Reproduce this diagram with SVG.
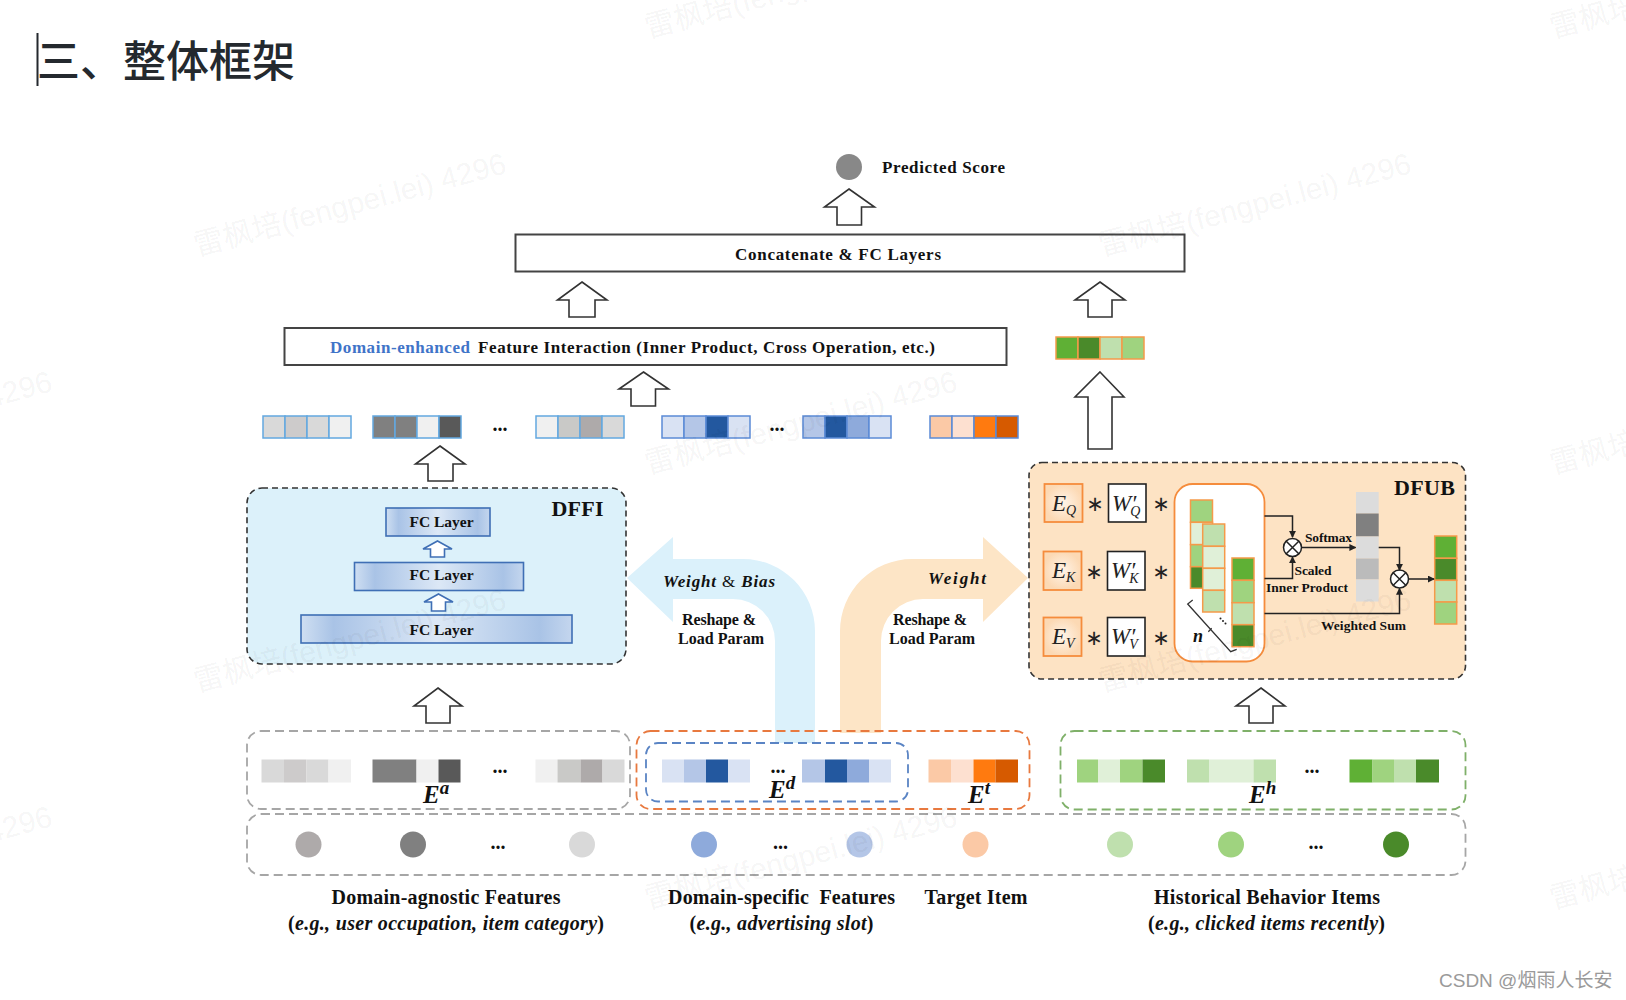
<svg xmlns="http://www.w3.org/2000/svg" width="1626" height="1000" viewBox="0 0 1626 1000">
<style>
text{font-family:"Liberation Serif","Noto Sans CJK SC",serif;fill:#111}
.b{font-weight:700}
.bi{font-weight:700;font-style:italic}
.m{font-style:italic;font-size:23px;fill:#222}
.l20{font-size:20px;font-weight:700}
.l17{font-size:17px;font-weight:700}
.l16{font-size:16px;font-weight:700}
.l13{font-size:13.5px;font-weight:700}
.mid{text-anchor:middle}
.dots{font-size:20px;font-weight:700;text-anchor:middle}
.ast{font-size:21px;font-family:"DejaVu Sans",sans-serif;text-anchor:middle;fill:#222}
.hollow{fill:#fff;stroke:#333;stroke-width:1.6}
.hollowb{fill:#fff;stroke:#3f6fb5;stroke-width:1.6}
.box{fill:#fff;stroke:#444;stroke-width:2}
.dk{fill:none;stroke:#333;stroke-width:1.6;stroke-dasharray:6 4}
.dg{fill:none;stroke:#a6a6a6;stroke-width:1.8;stroke-dasharray:9 5}
.do{fill:none;stroke:#e8793f;stroke-width:1.8;stroke-dasharray:9 5}
.db{fill:none;stroke:#5a84c4;stroke-width:1.8;stroke-dasharray:9 5}
.dn{fill:none;stroke:#7fb069;stroke-width:1.8;stroke-dasharray:9 5}
.fc{fill:url(#fcg);stroke:#3f6fb5;stroke-width:1.6}
.sa rect{stroke:#63a8e0;stroke-width:1.5}
.sd rect{stroke:#5b8bd6;stroke-width:1.5}
.so rect{stroke:#f59a4a;stroke-width:1.5}
.eo{fill:url(#eog);stroke:#f58c3c;stroke-width:1.8}
.ew{fill:#fff;stroke:#222;stroke-width:1.6}
.wire{fill:none;stroke:#444;stroke-width:1.5}
.wa{fill:none;stroke:#222;stroke-width:1.5;marker-end:url(#ah)}
.ot{fill:#fff;stroke:#222;stroke-width:1.5}
.k1{fill:#d9d9d9}.k2{fill:#cdcbcb}.k3{fill:#f0f0f0}.k4{fill:#808080}.k5{fill:#595959}.k6{fill:#c9c9c7}.k7{fill:#aeaaaa}
.b1{fill:#d9e2f3}.b2{fill:#b4c6e7}.b3{fill:#23589f}.b4{fill:#8eaadb}
.o1{fill:#fbc9a6}.o2{fill:#fde0d0}.o3{fill:#ff7a0f}.o4{fill:#d65a00}
.g1{fill:#9fd37f}.g2{fill:#e0f0d8}.g3{fill:#4a8a2a}.g4{fill:#bfe0ae}.g5{fill:#5fb035}
.wm{font-family:"Liberation Sans","Noto Sans CJK SC",sans-serif;font-size:30px;fill:#000;fill-opacity:.055}
</style>
<defs>
<linearGradient id="fcg"><stop offset="0" stop-color="#cfdff2"/><stop offset=".12" stop-color="#a9c3e6"/><stop offset=".5" stop-color="#dce8f6"/><stop offset=".88" stop-color="#a9c3e6"/><stop offset="1" stop-color="#c4d6ee"/></linearGradient>
<radialGradient id="eog"><stop offset="0" stop-color="#fff4e8"/><stop offset="1" stop-color="#fcd9b4"/></radialGradient>
<marker id="ah" viewBox="0 0 8 8" refX="7" refY="4" markerWidth="7" markerHeight="7" markerUnits="userSpaceOnUse" orient="auto"><path d="M0 0L8 4L0 8Z" fill="#222"/></marker>
</defs>
<rect width="1626" height="1000" fill="#fff"/>

<g id="title">
<rect x="36.500" y="33" width="2" height="53" fill="#24292e"/>
<text x="37" y="77" font-size="43" font-weight="500" style="font-family:'Noto Sans CJK SC',sans-serif;fill:#24292e">三、整体框架</text>
</g>

<g id="predicted-score">
<circle cx="849" cy="167" r="13" fill="#888"/>
<text class="l17" x="882" y="173" textLength="123">Predicted Score</text>
</g>

<g id="concat-layer">
<rect class="box" x="515.500" y="234.500" width="669" height="37"/>
<text class="l17" x="735" y="260" textLength="206">Concatenate &amp; FC Layers</text>
</g>

<g id="interaction-layer">
<rect class="box" x="284.500" y="328" width="722" height="37"/>
<text class="l17" x="330" y="353" textLength="140" style="fill:#3f74c8">Domain-enhanced</text>
<text class="l17" x="478" y="353" textLength="457">Feature Interaction (Inner Product, Cross Operation, etc.)</text>
</g>

<g id="user-strip" class="so">
<rect class="g5" x="1056" y="337" width="22" height="22"/><rect class="g3" x="1078" y="337" width="22" height="22"/><rect class="g4" x="1100" y="337" width="22" height="22"/><rect class="g1" x="1122" y="337" width="22" height="22"/>
</g>

<g id="mid-strips">
<g class="sa"><rect class="k1" x="263" y="416" width="22" height="22"/><rect class="k2" x="285" y="416" width="22" height="22"/><rect class="k1" x="307" y="416" width="22" height="22"/><rect class="k3" x="329" y="416" width="22" height="22"/></g>
<g class="sa"><rect class="k4" x="373" y="416" width="22" height="22"/><rect class="k4" x="395" y="416" width="22" height="22"/><rect class="k3" x="417" y="416" width="22" height="22"/><rect class="k5" x="439" y="416" width="22" height="22"/></g>
<text class="dots" x="500" y="431">...</text>
<g class="sa"><rect class="k3" x="536" y="416" width="22" height="22"/><rect class="k6" x="558" y="416" width="22" height="22"/><rect class="k7" x="580" y="416" width="22" height="22"/><rect class="k1" x="602" y="416" width="22" height="22"/></g>
<g class="sd"><rect class="b1" x="662" y="416" width="22" height="22"/><rect class="b2" x="684" y="416" width="22" height="22"/><rect class="b3" x="706" y="416" width="22" height="22"/><rect class="b1" x="728" y="416" width="22" height="22"/></g>
<text class="dots" x="777" y="431">...</text>
<g class="sd"><rect class="b2" x="803" y="416" width="22" height="22"/><rect class="b3" x="825" y="416" width="22" height="22"/><rect class="b4" x="847" y="416" width="22" height="22"/><rect class="b1" x="869" y="416" width="22" height="22"/></g>
<g class="sd"><rect class="o1" x="930" y="416" width="22" height="22"/><rect class="o2" x="952" y="416" width="22" height="22"/><rect class="o3" x="974" y="416" width="22" height="22"/><rect class="o4" x="996" y="416" width="22" height="22"/></g>
</g>

<g id="DFFI">
<rect x="247" y="488" width="379" height="176" rx="15" fill="#dcf1fa"/>
<rect class="dk" x="247" y="488" width="379" height="176" rx="15"/>
<text x="551.500" y="516" font-size="22" class="b" textLength="52">DFFI</text>
<rect class="fc" x="386" y="508" width="104" height="28"/>
<text class="l17 mid" x="441.500" y="527" style="font-size:15.500px">FC Layer</text>
<rect class="fc" x="354.500" y="562.500" width="169" height="28"/>
<text class="l17 mid" x="441.500" y="580" style="font-size:15.500px">FC Layer</text>
<rect class="fc" x="301" y="615" width="271" height="28"/>
<text class="l17 mid" x="441.500" y="635" style="font-size:15.500px">FC Layer</text>
<path class="hollowb" d="M437.500 541L452 549H444.500V557H430.500V549H423Z"/>
<path class="hollowb" d="M438.500 594L453 602H445.500V611H431.500V602H424Z"/>
</g>

<g id="param-arrows">
<path d="M627 578L673 537V559H743A72 72 0 0 1 815 631V743H775V641A42 42 0 0 0 733 599H673V622Z" fill="#dbf1fb"/>
<path d="M1028 578L983 537V559H912A72 72 0 0 0 840 631V733H881V641A42 42 0 0 1 923 599H983V622Z" fill="#fde5c6"/>
<text class="bi" x="663" y="587" font-size="17" textLength="112">Weight <tspan font-weight="400" font-style="normal">&amp;</tspan> Bias</text>
<text class="l16" x="682" y="625" textLength="74">Reshape &amp;</text>
<text class="l16" x="678" y="644" textLength="86">Load Param</text>
<text class="bi" x="928" y="584" font-size="17" textLength="58">Weight</text>
<text class="l16" x="893" y="625" textLength="74">Reshape &amp;</text>
<text class="l16" x="889" y="644" textLength="86">Load Param</text>
</g>

<g id="DFUB">
<rect x="1029" y="462.500" width="436.500" height="216.500" rx="13" fill="#fde3c4"/>
<rect class="dk" x="1029" y="462.500" width="436.500" height="216.500" rx="13"/>
<text x="1394" y="495" font-size="22" class="b" textLength="61">DFUB</text>
<rect class="eo" x="1044.500" y="484" width="38" height="38"/>
<text class="m" x="1052" y="511">E<tspan font-size="14" dy="4">Q</tspan></text>
<rect class="eo" x="1043.500" y="551.500" width="38" height="38.500"/>
<text class="m" x="1052" y="578">E<tspan font-size="14" dy="4">K</tspan></text>
<rect class="eo" x="1043.500" y="617.500" width="38" height="38.500"/>
<text class="m" x="1052" y="644">E<tspan font-size="14" dy="4">V</tspan></text>
<rect class="ew" x="1108.500" y="484" width="37.500" height="38"/>
<text class="m" x="1112" y="511">W′<tspan font-size="14" dy="5" dx="-6">Q</tspan></text>
<rect class="ew" x="1107.500" y="551.500" width="37.500" height="38.500"/>
<text class="m" x="1111" y="578">W′<tspan font-size="14" dy="5" dx="-6">K</tspan></text>
<rect class="ew" x="1107.500" y="617.500" width="37.500" height="38.500"/>
<text class="m" x="1111" y="644">W′<tspan font-size="14" dy="5" dx="-6">V</tspan></text>
<text class="ast" x="1095" y="511">∗</text><text class="ast" x="1161" y="511">∗</text>
<text class="ast" x="1094" y="579">∗</text><text class="ast" x="1161" y="579">∗</text>
<text class="ast" x="1094" y="645">∗</text><text class="ast" x="1161" y="645">∗</text>
<rect x="1174.500" y="484" width="90" height="177.500" rx="18" fill="#fff" stroke="#f58c3c" stroke-width="1.8"/>
<g class="so">
<rect class="g1" x="1190.500" y="500" width="22" height="22.300"/><rect class="g2" x="1190.500" y="522.300" width="22" height="22.300"/><rect class="g1" x="1190.500" y="544.700" width="22" height="22"/><rect class="g3" x="1190.500" y="566.700" width="22" height="21.600"/>
<rect class="g4" x="1202.700" y="524" width="22" height="22.300"/><rect class="g2" x="1202.700" y="546.300" width="22" height="22"/><rect class="g2" x="1202.700" y="568.300" width="22" height="22"/><rect class="g4" x="1202.700" y="590.300" width="22" height="21.700"/>
<rect class="g5" x="1232" y="558" width="22" height="22.300"/><rect class="g1" x="1232" y="580.300" width="22" height="22.400"/><rect class="g4" x="1232" y="602.700" width="22" height="22"/><rect class="g3" x="1232" y="624.700" width="22" height="22"/>
</g>
<path d="M1192.700 600L1187.700 604L1230.700 651.700L1236.700 649.300M1208.300 631.700L1211.700 628.300" fill="none" stroke="#333" stroke-width="1.300"/>
<g fill="#222"><circle cx="1220.500" cy="618.500" r="1"/><circle cx="1223" cy="621" r="1"/><circle cx="1225.500" cy="623.500" r="1"/></g>
<text class="bi" x="1193" y="642" font-size="18">n</text>
<text class="l13" x="1305" y="541.500" textLength="47">Softmax</text>
<text class="l13" x="1294.500" y="575" textLength="37">Scaled</text>
<text class="l13" x="1266" y="591.500" textLength="82">Inner Product</text>
<text class="l13" x="1321" y="630" textLength="85">Weighted Sum</text>
<g id="attn-column">
<rect x="1356" y="492" width="22.700" height="21.500" fill="#dcdcdc"/><rect x="1356" y="513.500" width="22.700" height="23" fill="#808080"/><rect x="1356" y="536.500" width="22.700" height="22" fill="#dcdcdc"/><rect x="1356" y="558.500" width="22.700" height="21" fill="#bbb"/><rect x="1356" y="579.500" width="22.700" height="22" fill="#dcdcdc"/>
</g>
<g id="user-output" class="so">
<rect class="g5" x="1434.700" y="536" width="22" height="22.300"/><rect class="g3" x="1434.700" y="558.300" width="22" height="22"/><rect class="g4" x="1434.700" y="580.300" width="22" height="21.700"/><rect class="g1" x="1434.700" y="602" width="22" height="22"/>
</g>
<g id="otimes-1"><circle class="ot" cx="1292.500" cy="547.500" r="9"/><path class="wire" d="M1286 541L1299 554M1299 541L1286 554" style="stroke:#222"/></g>
<g id="otimes-2"><circle class="ot" cx="1399.500" cy="579" r="9"/><path class="wire" d="M1393 572.500L1406 585.500M1406 572.500L1393 585.500" style="stroke:#222"/></g>
</g>

<g id="feature-embeddings">
<g><rect class="k1" x="261.500" y="759.500" width="22.500" height="23"/><rect class="k2" x="284" y="759.500" width="22.500" height="23"/><rect class="k1" x="306.500" y="759.500" width="22" height="23"/><rect class="k3" x="328.500" y="759.500" width="22.500" height="23"/>
<rect class="k4" x="372.500" y="759.500" width="44" height="23"/><rect class="k3" x="416.500" y="759.500" width="22" height="23"/><rect class="k5" x="438.500" y="759.500" width="22" height="23"/>
<rect class="k3" x="535.500" y="759.500" width="22" height="23"/><rect class="k6" x="557.500" y="759.500" width="23" height="23"/><rect class="k7" x="580.500" y="759.500" width="22" height="23"/><rect class="k1" x="602.500" y="759.500" width="22" height="23"/></g>
<g><rect class="b1" x="662" y="759.500" width="22" height="23"/><rect class="b2" x="684" y="759.500" width="22" height="23"/><rect class="b3" x="706" y="759.500" width="22" height="23"/><rect class="b1" x="728" y="759.500" width="22" height="23"/>
<rect class="b2" x="802" y="759.500" width="23" height="23"/><rect class="b3" x="825" y="759.500" width="22" height="23"/><rect class="b4" x="847" y="759.500" width="22" height="23"/><rect class="b1" x="869" y="759.500" width="22" height="23"/></g>
<g><rect class="o1" x="928.500" y="759.500" width="22.500" height="23"/><rect class="o2" x="951" y="759.500" width="22.500" height="23"/><rect class="o3" x="973.500" y="759.500" width="22" height="23"/><rect class="o4" x="995.500" y="759.500" width="22.500" height="23"/></g>
<g><rect class="g1" x="1077" y="759.500" width="21" height="23"/><rect class="g2" x="1098" y="759.500" width="22" height="23"/><rect class="g1" x="1120" y="759.500" width="22.500" height="23"/><rect class="g3" x="1142.500" y="759.500" width="22.500" height="23"/>
<rect class="g4" x="1187" y="759.500" width="22" height="23"/><rect class="g2" x="1209" y="759.500" width="44.500" height="23"/><rect class="g4" x="1253.500" y="759.500" width="22.500" height="23"/>
<rect class="g5" x="1349.500" y="759.500" width="23" height="23"/><rect class="g1" x="1372.500" y="759.500" width="21.500" height="23"/><rect class="g4" x="1394" y="759.500" width="22" height="23"/><rect class="g3" x="1416" y="759.500" width="23" height="23"/></g>
<text class="dots" x="500" y="773">...</text><text class="dots" x="778" y="773">...</text><text class="dots" x="1312" y="773">...</text>
<text class="bi" x="423" y="803" font-size="25">E<tspan font-size="19" dy="-9">a</tspan></text>
<text class="bi" x="769" y="798" font-size="25">E<tspan font-size="19" dy="-9">d</tspan></text>
<text class="bi" x="968" y="803" font-size="25">E<tspan font-size="19" dy="-9">t</tspan></text>
<text class="bi" x="1249" y="803" font-size="25">E<tspan font-size="19" dy="-9">h</tspan></text>
<rect class="dg" x="247" y="731" width="383" height="78" rx="14"/>
<rect class="do" x="636.500" y="731" width="393" height="78" rx="14"/>
<rect class="db" x="646" y="743" width="262" height="58.500" rx="12"/>
<rect class="dn" x="1060.500" y="731" width="405" height="78.500" rx="14"/>
</g>

<g id="feature-inputs">
<rect class="dg" x="247" y="814" width="1218.500" height="61" rx="14"/>
<circle class="k7" cx="308.500" cy="844.500" r="13"/><circle class="k4" cx="413" cy="844.500" r="13"/><circle class="k1" cx="582" cy="844.500" r="13"/>
<circle class="b4" cx="704" cy="844.500" r="13"/><circle class="b2" cx="859.500" cy="844.500" r="13"/><circle class="o1" cx="975.500" cy="844.500" r="13"/>
<circle class="g4" cx="1120" cy="844.500" r="13"/><circle class="g1" cx="1231" cy="844.500" r="13"/><circle class="g3" cx="1396" cy="844.500" r="13"/>
<text class="dots" x="498" y="849">...</text><text class="dots" x="780.500" y="849">...</text><text class="dots" x="1316" y="849">...</text>
</g>

<g id="feature-labels">
<text class="l20" x="331.500" y="904" textLength="229">Domain-agnostic Features</text>
<text class="l20" x="288" y="930" textLength="316">(<tspan font-style="italic">e.g., user occupation, item category</tspan>)</text>
<text class="l20" x="668" y="904" textLength="227" xml:space="preserve">Domain-specific  Features</text>
<text class="l20" x="689.500" y="930" textLength="184">(<tspan font-style="italic">e.g., advertising slot</tspan>)</text>
<text class="l20" x="924.500" y="904" textLength="103">Target Item</text>
<text class="l20" x="1154" y="904" textLength="226">Historical Behavior Items</text>
<text class="l20" x="1148" y="930" textLength="237">(<tspan font-style="italic">e.g., clicked items recently</tspan>)</text>
</g>

<g id="connectors">
<path class="hollow" d="M849 189L874.500 207H861.500V225H837V207H824.500Z"/>
<path class="hollow" d="M582 282L607 300H595V317H569V300H557.500Z"/>
<path class="hollow" d="M1100 282L1125 300H1112V317H1088V300H1075Z"/>
<path class="hollow" d="M643.500 372L668.500 389H655.500V406H631V389H619Z"/>
<path class="hollow" d="M1100 372L1124 397H1112V449H1088V397H1075Z"/>
<path class="hollow" d="M440 446L465 464H453V481H428V464H415.500Z"/>
<path class="hollow" d="M438 688L462 706H450V723H426V706H414Z"/>
<path class="hollow" d="M1261 688L1285 706H1273V723H1249V706H1236Z"/>
<path class="wa" d="M1264.500 516H1292.500V537"/>
<path class="wa" d="M1264.500 578.500H1292.500V557"/>
<path class="wa" d="M1301.500 547.500H1355.500"/>
<path class="wa" d="M1378.700 547.500H1399.500V570"/>
<path class="wa" d="M1408.500 579H1434"/>
<path class="wa" d="M1264.500 613.500H1399.500V588.500"/>
</g>

<g id="watermarks">
<text class="wm" transform="translate(197 256) rotate(-15)">雷枫培(fengpei.lei) 4296</text>
<text class="wm" transform="translate(1102 256) rotate(-15)">雷枫培(fengpei.lei) 4296</text>
<text class="wm" transform="translate(197 692) rotate(-15)">雷枫培(fengpei.lei) 4296</text>
<text class="wm" transform="translate(1102 692) rotate(-15)">雷枫培(fengpei.lei) 4296</text>
<text class="wm" transform="translate(648 38) rotate(-15)">雷枫培(fengpei.lei) 4296</text>
<text class="wm" transform="translate(648 474) rotate(-15)">雷枫培(fengpei.lei) 4296</text>
<text class="wm" transform="translate(648 909) rotate(-15)">雷枫培(fengpei.lei) 4296</text>
<text class="wm" transform="translate(1553 38) rotate(-15)">雷枫培(fengpei.lei) 4296</text>
<text class="wm" transform="translate(1553 474) rotate(-15)">雷枫培(fengpei.lei) 4296</text>
<text class="wm" transform="translate(1553 909) rotate(-15)">雷枫培(fengpei.lei) 4296</text>
<text class="wm" transform="translate(-257 474) rotate(-15)">雷枫培(fengpei.lei) 4296</text>
<text class="wm" transform="translate(-257 909) rotate(-15)">雷枫培(fengpei.lei) 4296</text>
</g>

<text id="csdn-credit" x="1439" y="987" font-size="19" style="font-family:'Liberation Sans','Noto Sans CJK SC',sans-serif;fill:#9a9a9a">CSDN @烟雨人长安</text>
</svg>
